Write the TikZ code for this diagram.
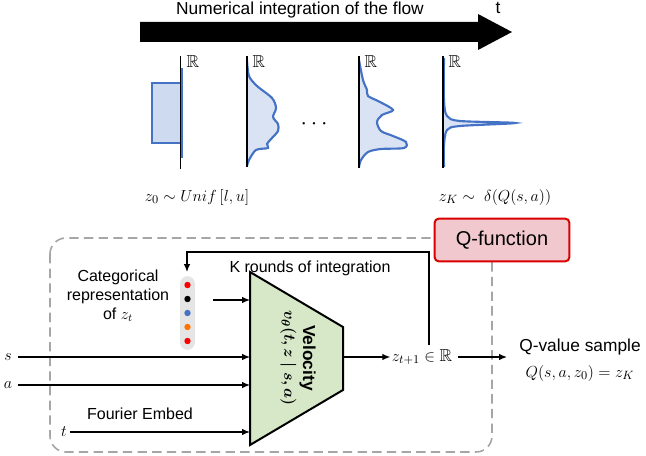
\documentclass[tikz,border=0pt]{standalone}
\usepackage{fontspec}
\usepackage{amssymb,amsmath,bm}
\setmainfont{Liberation Sans}
\usetikzlibrary{arrows.meta}
\definecolor{cblue}{RGB}{68,114,196}
\definecolor{cfill}{RGB}{218,227,243}
\definecolor{vgreen}{RGB}{214,232,200}
\definecolor{qpink}{RGB}{240,200,205}
\begin{document}
\begin{tikzpicture}[x=0.75pt,y=-0.75pt,
  lbl/.style={font=\fontsize{12}{14}\selectfont, inner sep=1pt},
  mth/.style={font=\fontsize{13}{15}\selectfont, inner sep=1pt},
  arr/.style={-{Latex[length=6pt,width=5pt]}, line width=1pt},
  axis/.style={line width=1pt},
  dist/.style={draw=cblue, line width=1.6pt, fill=cfill}]
\useasboundingbox (0,0) rectangle (646,456);
% big arrow
\fill (140,22) -- (478,22) -- (478,14) -- (512,32) -- (478,50) -- (478,42) -- (140,42) -- cycle;
\node[lbl,font=\fontsize{13}{15}\selectfont] (title) at (300,10) {Numerical integration of the flow};
\node[lbl,font=\fontsize{13}{15}\selectfont] (tlab) at (498,8) {t};
% dist 1
\draw[cblue, line width=1.8pt] (182,68) -- (182,158);
\draw[draw=cblue, line width=1.6pt, fill=cfill!70!cblue!60] (181,83) -- (152,83) -- (152,143) -- (181,143);
\draw[axis] (180.5,56) -- (180.5,169);
\node[mth] (r1) at (193,62) {$\mathbb{R}$};
% dist 2
\draw[dist] plot[smooth] coordinates {(247,60) (249,76) (257,86) (272,98) (276,108) (273,117) (278,124) (278,131) (272,138) (267,144) (268,148) (256,150) (249,160) (247,166)};
\draw[axis] (247,56) -- (247,167);
\node[mth] (r2) at (259,62) {$\mathbb{R}$};
% dots
\node[font=\fontsize{16}{16}\selectfont\bfseries] (dots) at (316,124) {$\cdots$};
% dist 3
\draw[dist] plot[smooth] coordinates {(359,60) (363,80) (367,90) (368,96) (380,102) (393,110) (382,115) (377,122) (381,131) (393,136) (406,142) (404,148) (381,149) (368,152) (361,160) (359,167)};
\draw[axis] (359,56) -- (359,168);
\node[mth] (r3) at (371,62) {$\mathbb{R}$};
% dist 4
\draw[dist] plot[smooth] coordinates {(444,58) (444,100) (447,116) (460,121) (515,123) (460,126) (447,130) (444,145) (444,167)};
\draw[axis] (443,56) -- (443,168);
\node[mth] (r4) at (455,62) {$\mathbb{R}$};
\node[mth] (z0) at (197,197) {$z_0 \sim \mathnormal{Unif}\,[l,u]$};
\node[mth] (zK) at (495,197) {$z_K \sim\ \delta(Q(s,a))$};
% dashed box
\draw[gray!70, line width=1.2pt, dash pattern=on 7pt off 4pt, rounded corners=12pt] (50,238) rectangle (492,452);
\node[draw=red!85!black, line width=1.5pt, fill=qpink, rounded corners=3pt, minimum width=101pt, minimum height=32pt, font=\fontsize{15}{17}\selectfont] (qf) at (502,240) {Q-function};
% trapezoid
\draw[line width=1.5pt, fill=vgreen] (250,272) -- (343,327) -- (343,390) -- (250,445) -- cycle;
\node[rotate=-90, align=center, font=\fontsize{13}{15}\selectfont\bfseries] (vel) at (298,358) {Velocity\\[-1pt] $\bm{v_\theta(t,z\mid s,a)}$};
\coordinate (tin1) at (250,300);
\coordinate (tin2) at (250,357);
\coordinate (tin3) at (250,385);
\coordinate (tin4) at (250,432);
% categorical
\fill[gray!20, rounded corners=6pt] (180,276) rectangle (195,350);
\foreach \y/\c in {285/red,299/black,313/cblue,327/orange!90!red,341/red}
  \fill[\c] (187.5,\y) circle (3.2);
\node[lbl, align=center] (cat) at (118,296) {Categorical\\representation\\of $z_t$};
\coordinate (catout) at (213,300);
\draw[arr] (catout) -- (tin1);
\node[mth] (s) at (8,357) {$s$};
\node[mth] (a) at (8,385) {$a$};
\node[mth] (t) at (64,432) {$t$};
\draw[arr] (s) ++(10,0) -- (tin2);
\draw[arr] (a) ++(10,0) -- (tin3);
\draw[arr] (t.east) ++(2,0) -- (tin4);
\node[lbl] (fe) at (140,414) {Fourier Embed};
\node[mth] (zt1) at (422,357) {$z_{t+1}\in\mathbb{R}$};
\draw[arr] (343,357) -- (zt1.west);
\draw[arr] (429,345) -- (429,252) -- (187,252) -- (187,272);
\node[lbl] (krounds) at (310,268) {K rounds of integration};
\node[lbl, font=\fontsize{13}{15}\selectfont] (qv) at (580,347) {Q-value sample};
\node[mth] (qf2) at (580,373) {$Q(s,a,z_0) = z_K$};
\draw[arr] (zt1.east) ++(4,0) -- (507,357);
\end{tikzpicture}
\end{document}
